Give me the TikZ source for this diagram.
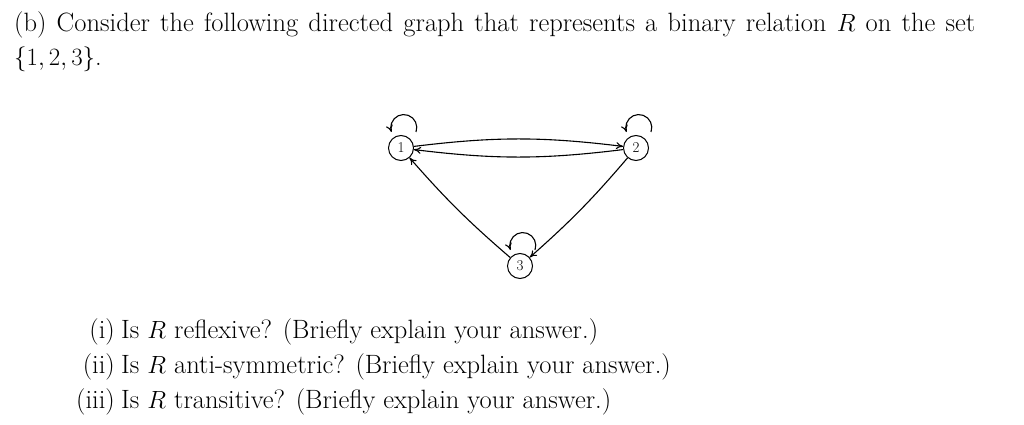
\documentclass[tikz,border=0pt]{standalone}
\usetikzlibrary{arrows.meta}
\begin{document}
\begin{tikzpicture}[x=1pt,y=-1pt,
  vtx/.style={draw,circle,inner sep=0pt,minimum size=25pt,font=\fontsize{15}{17}\selectfont,line width=1pt},
  edge/.style={line width=1.1pt,-{To[length=7pt,width=7pt]}},
  txt/.style={font=\fontsize{26.5}{34}\selectfont,inner sep=0pt}]
\useasboundingbox (0,0) rectangle (1024,425);
\node[txt,anchor=north west,text width=961pt,align=justify] (head) at (14,11)
 {\hangindent=48pt\hangafter=1 (b)~Consider the following directed graph that represents a binary relation $R$ on the set\linebreak $\{1,2,3\}$.};
\node[vtx] (n1) at (401,148) {1};
\node[vtx] (n2) at (636,148) {2};
\node[vtx] (n3) at (520,266) {3};
\draw[edge] (n1) to[bend left=7] (n2);
\draw[edge] (n2) to[bend left=7] (n1);
\draw[edge] (n2) to[bend left=4] (n3);
\draw[edge] (n3) to[bend left=4] (n1);
\foreach \n/\x/\y in {1/401/148,2/636/148,3/520/266}{
  \coordinate (c\n) at (\x+2,\y-20);
  \draw[edge] (c\n) ++(13,4) arc[start angle=380,end angle=160,radius=13];
}
\node[txt,anchor=base east] (l1) at (115,338) {(i)};
\node[txt,anchor=base west] (t1) at (121,338) {Is $R$ reflexive? (Briefly explain your answer.)};
\node[txt,anchor=base east] (l2) at (115,373) {(ii)};
\node[txt,anchor=base west] (t2) at (121,373) {Is $R$ anti-symmetric? (Briefly explain your answer.)};
\node[txt,anchor=base east] (l3) at (115,408) {(iii)};
\node[txt,anchor=base west] (t3) at (121,408) {Is $R$ transitive? (Briefly explain your answer.)};
\end{tikzpicture}
\end{document}
